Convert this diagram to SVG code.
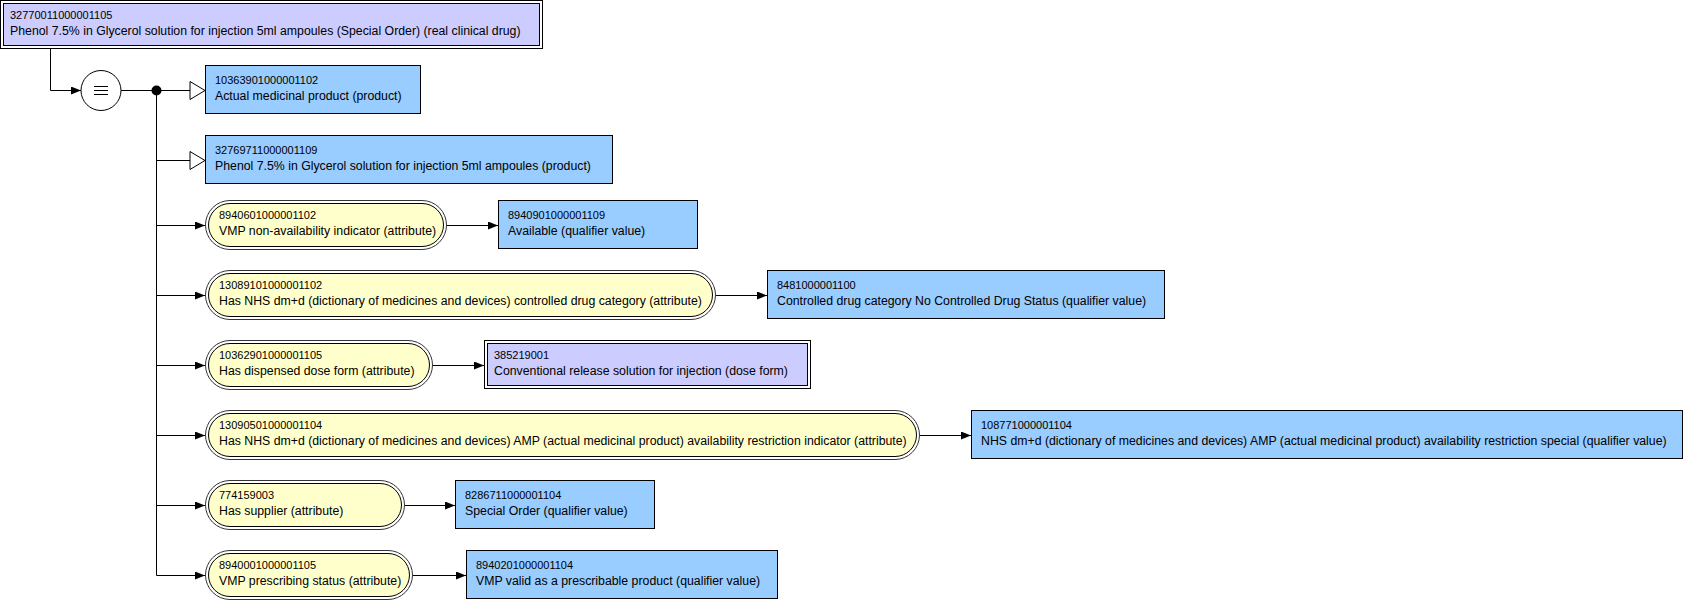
<svg xmlns="http://www.w3.org/2000/svg" width="1684" height="600" viewBox="0 0 1684 600">
<style>
text{font-family:"Liberation Sans",Arial,sans-serif;fill:#000}
.id{font-size:11px}
.nm{font-size:12.3px}
.blue{fill:#99ccff;stroke:#000;stroke-width:1}
.lav{fill:#ccccff;stroke:#000;stroke-width:1}
.outer{fill:#fff;stroke:#000;stroke-width:1}
.pillo{fill:#fff;stroke:#333;stroke-width:1}
.pilli{fill:#ffffcc;stroke:#000;stroke-width:1}
.ln{fill:none;stroke:#000;stroke-width:1}
.a{marker-end:url(#arr)}
.t{marker-end:url(#tri)}
</style>
<defs>
<marker id="arr" markerWidth="10" markerHeight="8" refX="10" refY="4" orient="auto" markerUnits="userSpaceOnUse"><path d="M0,0 L10,4 L0,8 z" fill="#000"/></marker>
<marker id="tri" markerWidth="16" markerHeight="20" refX="15.5" refY="10" orient="auto" markerUnits="userSpaceOnUse" overflow="visible"><path d="M0.5,1 L15.5,10 L0.5,19 z" fill="#fff" stroke="#000" stroke-width="1"/></marker>
</defs>

<g id="connectors">
<path class="ln a" d="M50.5,49 V90.5 H81"/>
<path class="ln" d="M121,90.5 H156.5"/>
<path class="ln t" d="M156.5,90.5 H205"/>
<path class="ln" d="M156.5,90.5 V575.5"/>
<path class="ln t" d="M156.5,160.5 H205"/>
<path class="ln a" d="M156.5,225.5 H205"/>
<path class="ln a" d="M156.5,295.5 H205"/>
<path class="ln a" d="M156.5,365.5 H205"/>
<path class="ln a" d="M156.5,435.5 H205"/>
<path class="ln a" d="M156.5,505.5 H205"/>
<path class="ln a" d="M156.5,575.5 H205"/>
<path class="ln a" d="M447,225.5 H498"/>
<path class="ln a" d="M716,295.5 H767"/>
<path class="ln a" d="M433,365.5 H484"/>
<path class="ln a" d="M920,435.5 H971"/>
<path class="ln a" d="M405,505.5 H455"/>
<path class="ln a" d="M413,575.5 H466"/>
<circle cx="156.5" cy="90.5" r="5" fill="#000"/>
</g>

<g id="root">
<rect class="outer" x="0.5" y="0.5" width="542" height="48"/>
<rect class="lav" x="3.5" y="3.5" width="536" height="42"/>
<text class="id" x="10" y="19">32770011000001105</text>
<text class="nm" x="10" y="35">Phenol 7.5% in Glycerol solution for injection 5ml ampoules (Special Order) (real clinical drug)</text>
</g>

<g id="equiv">
<circle cx="101" cy="90.5" r="20" fill="#fff" stroke="#000"/>
<path class="ln" d="M94,86.5 H108 M94,90.5 H108 M94,94.5 H108"/>
</g>

<g id="n1">
<rect class="blue" x="205.5" y="65.5" width="215" height="48"/>
<text class="id" x="215" y="84">10363901000001102</text>
<text class="nm" x="215" y="100">Actual medicinal product (product)</text>
</g>

<g id="n2">
<rect class="blue" x="205.5" y="135.5" width="407" height="48"/>
<text class="id" x="215" y="154">32769711000001109</text>
<text class="nm" x="215" y="170">Phenol 7.5% in Glycerol solution for injection 5ml ampoules (product)</text>
</g>

<g id="a1">
<rect class="pillo" x="205.5" y="200.5" width="241" height="49" rx="24.5"/>
<rect class="pilli" x="208.5" y="203.5" width="235" height="43" rx="21.5"/>
<text class="id" x="219" y="219">8940601000001102</text>
<text class="nm" x="219" y="235">VMP non-availability indicator (attribute)</text>
</g>
<g id="v1">
<rect class="blue" x="498.5" y="200.5" width="199" height="48"/>
<text class="id" x="508" y="219">8940901000001109</text>
<text class="nm" x="508" y="235">Available (qualifier value)</text>
</g>

<g id="a2">
<rect class="pillo" x="205.5" y="270.5" width="510" height="49" rx="24.5"/>
<rect class="pilli" x="208.5" y="273.5" width="504" height="43" rx="21.5"/>
<text class="id" x="219" y="289">13089101000001102</text>
<text class="nm" x="219" y="305">Has NHS dm+d (dictionary of medicines and devices) controlled drug category (attribute)</text>
</g>
<g id="v2">
<rect class="blue" x="767.5" y="270.5" width="397" height="48"/>
<text class="id" x="777" y="289">8481000001100</text>
<text class="nm" x="777" y="305">Controlled drug category No Controlled Drug Status (qualifier value)</text>
</g>

<g id="a3">
<rect class="pillo" x="205.5" y="340.5" width="227" height="49" rx="24.5"/>
<rect class="pilli" x="208.5" y="343.5" width="221" height="43" rx="21.5"/>
<text class="id" x="219" y="359">10362901000001105</text>
<text class="nm" x="219" y="375">Has dispensed dose form (attribute)</text>
</g>
<g id="v3">
<rect class="outer" x="484.5" y="340.5" width="326" height="48"/>
<rect class="lav" x="487.5" y="343.5" width="320" height="42"/>
<text class="id" x="494" y="359">385219001</text>
<text class="nm" x="494" y="375">Conventional release solution for injection (dose form)</text>
</g>

<g id="a4">
<rect class="pillo" x="205.5" y="410.5" width="714" height="49" rx="24.5"/>
<rect class="pilli" x="208.5" y="413.5" width="708" height="43" rx="21.5"/>
<text class="id" x="219" y="429">13090501000001104</text>
<text class="nm" x="219" y="445">Has NHS dm+d (dictionary of medicines and devices) AMP (actual medicinal product) availability restriction indicator (attribute)</text>
</g>
<g id="v4">
<rect class="blue" x="971.5" y="410.5" width="711" height="48"/>
<text class="id" x="981" y="429">108771000001104</text>
<text class="nm" x="981" y="445">NHS dm+d (dictionary of medicines and devices) AMP (actual medicinal product) availability restriction special (qualifier value)</text>
</g>

<g id="a5">
<rect class="pillo" x="205.5" y="480.5" width="199" height="49" rx="24.5"/>
<rect class="pilli" x="208.5" y="483.5" width="193" height="43" rx="21.5"/>
<text class="id" x="219" y="499">774159003</text>
<text class="nm" x="219" y="515">Has supplier (attribute)</text>
</g>
<g id="v5">
<rect class="blue" x="455.5" y="480.5" width="199" height="48"/>
<text class="id" x="465" y="499">8286711000001104</text>
<text class="nm" x="465" y="515">Special Order (qualifier value)</text>
</g>

<g id="a6">
<rect class="pillo" x="205.5" y="550.5" width="207" height="49" rx="24.5"/>
<rect class="pilli" x="208.5" y="553.5" width="201" height="43" rx="21.5"/>
<text class="id" x="219" y="569">8940001000001105</text>
<text class="nm" x="219" y="585">VMP prescribing status (attribute)</text>
</g>
<g id="v6">
<rect class="blue" x="466.5" y="550.5" width="311" height="48"/>
<text class="id" x="476" y="569">8940201000001104</text>
<text class="nm" x="476" y="585">VMP valid as a prescribable product (qualifier value)</text>
</g>
</svg>
